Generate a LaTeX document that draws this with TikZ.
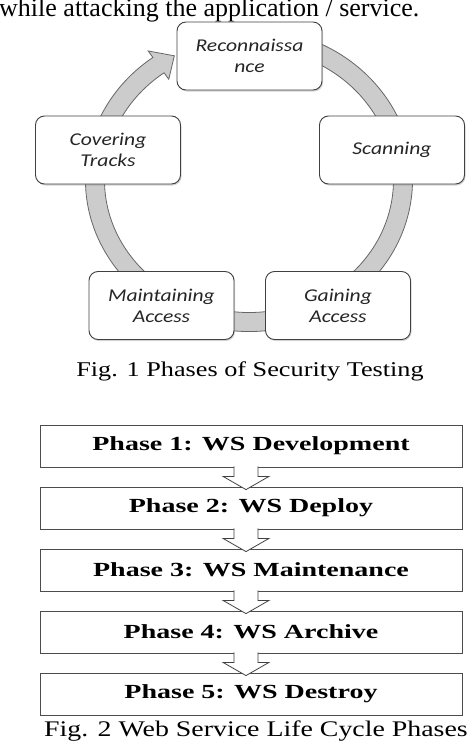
\documentclass[tikz,border=0pt]{standalone}
\usepackage{fontspec}
\setmainfont{Liberation Serif}[FakeStretch=1.25]
\newfontfamily\plainserif{Liberation Serif}
\newfontfamily\cyclefont{Carlito}[FakeStretch=1.2]
\newfontfamily\phasefont{Liberation Serif}[FakeStretch=1.4]
\usetikzlibrary{calc,shadows}
\tikzstyle{stage} = [rectangle, rounded corners=9pt, draw=black!75, fill=white, line width=0.9pt, minimum width=145pt, minimum height=68pt, align=center, text=black!85, font=\cyclefont\itshape\fontsize{18}{21}\selectfont, drop shadow={shadow xshift=1pt, shadow yshift=-1.5pt, opacity=0.35}]
\tikzstyle{phase} = [rectangle, draw=black!70, fill=white, line width=0.8pt, minimum width=422pt, minimum height=42pt, font=\phasefont\bfseries\fontsize{20}{24}\selectfont, drop shadow={shadow xshift=1.2pt, shadow yshift=-1.2pt, opacity=0.3}]
\tikzstyle{ringband} = [fill=black!20, draw=black!60, line width=0.8pt]
\tikzstyle{downarrow} = [draw=black!75, fill=white, line width=0.8pt, to path={([xshift=-17pt,yshift=1pt]\tikztostart.south) -- ([xshift=-17pt,yshift=-9pt]\tikztostart.south) -- ([xshift=-28pt,yshift=-9pt]\tikztostart.south) -- ([xshift=-5pt,yshift=-3pt]\tikztotarget.north) -- ([xshift=18pt,yshift=-9pt]\tikztostart.south) -- ([xshift=7pt,yshift=-9pt]\tikztostart.south) -- ([xshift=7pt,yshift=1pt]\tikztostart.south)}]
\tikzstyle{caption} = [font=\fontsize{21}{25}\selectfont, inner sep=0pt, anchor=base]

\begin{document}
\begin{tikzpicture}[x=1pt,y=1pt,node distance=62pt]
  \clip (0,0) rectangle (474,-752);
  \node[caption, anchor=base west, font=\plainserif\fontsize{26}{30}\selectfont] (prev) at (-1,-17) {while attacking the application / service.};

  % cycle of phases
  \coordinate (ring) at (249,-180);
  \draw[ringband] ($(ring)+(80:163.5 and 151.5)$) arc[start angle=80, end angle=-234, x radius=163.5, y radius=151.5]
    -- ($(ring)+(126:171.5 and 159.5)$) -- ($(ring)+(119:154 and 142)$) -- ($(ring)+(126:136.5 and 124.5)$)
    -- ($(ring)+(126:144.5 and 132.5)$) arc[start angle=126, end angle=440, x radius=144.5, y radius=132.5] -- cycle;

  \node[stage] (recon) at (249.5,-56) {Reconnaissa\\nce};
  \node[stage] (scan) at (392,-150) {Scanning};
  \node[stage] (gain) at (338,-305.5) {Gaining\\Access};
  \node[stage] (maint) at (161.5,-305.5) {Maintaining\\Access};
  \node[stage] (cover) at (108,-150) {Covering\\Tracks};
  \node[caption] (fig_eins) at (250,-376) {Fig. 1 Phases of Security Testing};

  % life cycle
  \node[phase] (p1) at (251,-446) {Phase 1: WS Development};
  \node[phase] (p2) [below of=p1] {Phase 2: WS Deploy};
  \node[phase] (p3) [below of=p2] {Phase 3: WS Maintenance};
  \node[phase] (p4) [below of=p3] {Phase 4: WS Archive};
  \node[phase] (p5) [below of=p4] {Phase 5: WS Destroy};

  \path (p1) edge[downarrow] (p2);
  \path (p2) edge[downarrow] (p3);
  \path (p3) edge[downarrow] (p4);
  \path (p4) edge[downarrow] (p5);

  \node[caption, font=\fontsize{22.3}{26}\selectfont] (fig_zwei) at (256,-736) {Fig. 2 Web Service Life Cycle Phases};
\end{tikzpicture}
\end{document}
